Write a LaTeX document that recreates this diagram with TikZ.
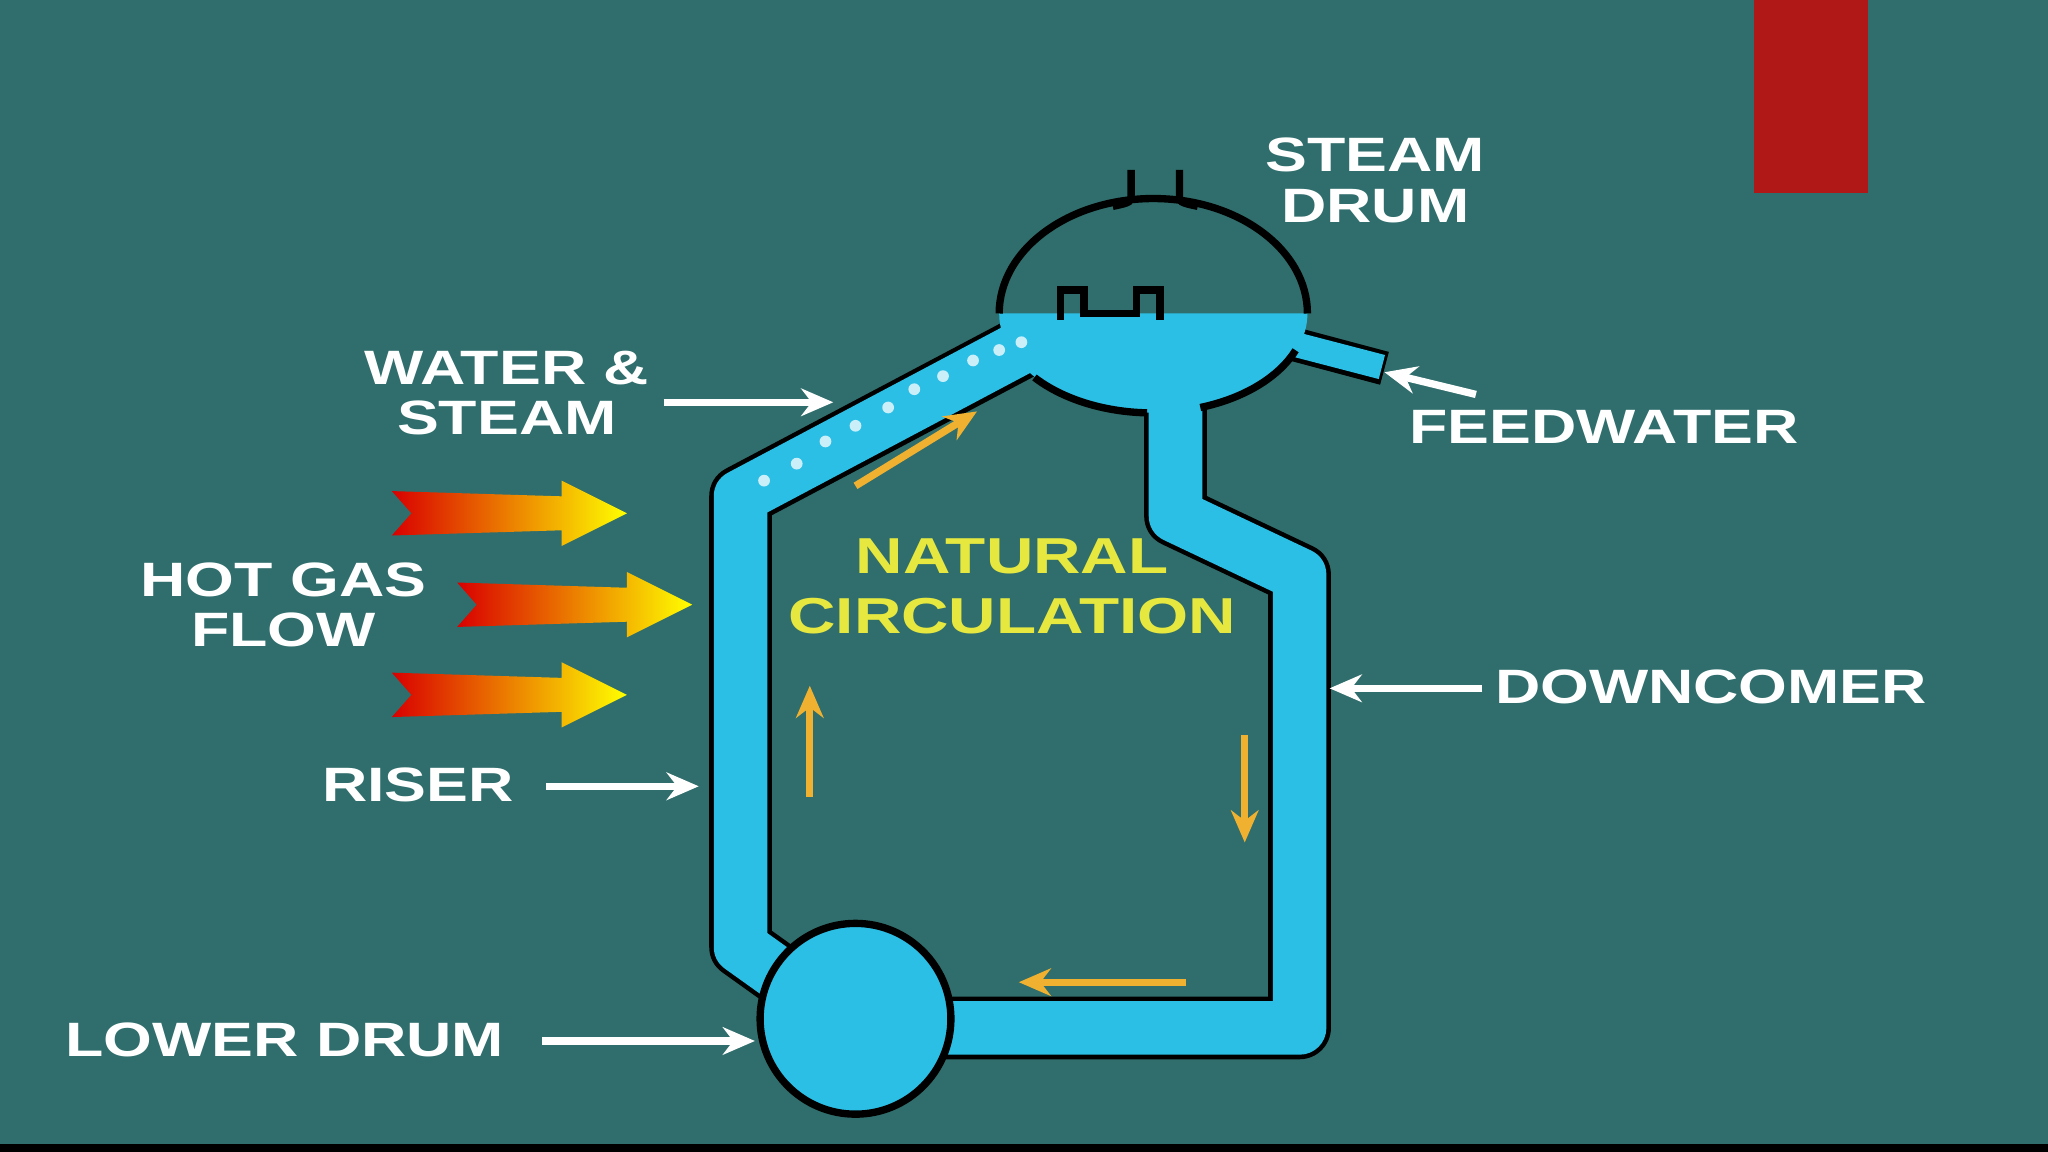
\documentclass[tikz,border=0pt]{standalone}
\usepackage{fontspec}
\setmainfont{Liberation Sans}[FakeStretch=1.3]
\usetikzlibrary{arrows.meta}
\definecolor{bg}{HTML}{2F6E6C}
\definecolor{pipe}{HTML}{2BBFE6}
\definecolor{gold}{HTML}{F0B030}
\definecolor{ylw}{HTML}{E6E840}
\definecolor{redbox}{HTML}{B01818}
\tikzset{
 lbl/.style={text=white,font=\fontsize{10.5}{11}\selectfont\bfseries,align=center,inner sep=0},
 warr/.style={draw=white,line width=1.6pt,-{Stealth[length=7pt,width=6pt]}},
 yarr/.style={draw=gold,line width=1.6pt,-{Stealth[length=7pt,width=6pt]}},
 pipeout/.style={draw=black,line width=0.48cm,line join=round},
 pipein/.style={draw=pipe,line width=0.41cm,line join=round},
 gas/.style={left color=red!85!black,right color=yellow,draw=none}
}
\begin{document}
\begin{tikzpicture}[x=0.01cm,y=-0.01cm]
\fill[bg] (0,0) rectangle (1568,882);
\fill[black] (0,876) rectangle (1568,882);
\useasboundingbox (0,0) rectangle (1568,882);
\fill[redbox] (1343,0) rectangle (1430,148);
% feedwater pipe
\draw[pipeout,line width=0.26cm] (985,262) -- (1060,282);
\draw[pipein,line width=0.19cm] (985,262) -- (1058,281);
% riser & downcomer
\draw[pipeout] (630,770) -- (567,725) -- (567,380) -- (790,262);
\draw[pipeout] (900,300) -- (900,395) -- (995,440) -- (995,787) -- (680,787);
\draw[pipein] (630,770) -- (567,725) -- (567,380) -- (795,259);
\draw[pipein] (900,290) -- (900,395) -- (995,440) -- (995,787) -- (680,787);
% steam drum
\fill[pipe] (765,240) arc[start angle=180,end angle=0,x radius=118,y radius=76];
\draw[line width=1.6pt] (765,240) arc[start angle=180,end angle=360,x radius=118,y radius=88];
\draw[line width=1.6pt] (792,289) arc[start angle=140,end angle=92,x radius=118,y radius=76];
\draw[line width=1.6pt] (919,312) arc[start angle=72,end angle=22,x radius=118,y radius=76];
\draw[line width=1.6pt] (866,130) -- (866,148) .. controls (866,155) .. (852,158);
\draw[line width=1.6pt] (903,130) -- (903,148) .. controls (903,155) .. (917,158);
\draw[line width=1.6pt] (812,245) -- (812,222) -- (830,222) -- (830,240) -- (870,240) -- (870,222) -- (888,222) -- (888,245);
% lower drum
\node[circle,draw=black,line width=1.6pt,fill=pipe,minimum size=1.46cm,inner sep=0] (ld) at (655,780) {};
% bubbles
\foreach \p in {(585,368),(610,355),(632,338),(655,326),(680,312),(700,298),(722,288),(745,276),(765,268),(782,262)}
 \fill[white!75!pipe] \p circle (4.5);
% circulation arrows
\coordinate (a1) at (655,372); \coordinate (a2) at (748,315);
\draw[yarr] (a1) -- (a2);
\coordinate (b1) at (620,610); \coordinate (b2) at (620,525);
\draw[yarr] (b1) -- (b2);
\coordinate (c1) at (953,563); \coordinate (c2) at (953,645);
\draw[yarr] (c1) -- (c2);
\coordinate (d1) at (908,752); \coordinate (d2) at (780,752);
\draw[yarr] (d1) -- (d2);
\node[text=ylw,font=\fontsize{11}{13}\selectfont\bfseries,align=center] (nc) at (775,449) {NATURAL\\CIRCULATION};
% hot gas arrows
\foreach \x/\y in {300/393,350/463,300/532}{
 \shade[gas] (\x,\y-17) -- (\x+130,\y-13) -- (\x+130,\y-25) -- (\x+180,\y) -- (\x+130,\y+25) -- (\x+130,\y+13) -- (\x,\y+17) -- (\x+15,\y) -- cycle;
}
% labels
\node[lbl] (st) at (1053,138) {STEAM\\DRUM};
\node[lbl] (ws) at (388,301) {WATER \&\\STEAM};
\coordinate (wsA) at (508,308); \coordinate (wsB) at (638,308);
\draw[warr] (wsA) -- (wsB);
\node[lbl] (fw) at (1228,327) {FEEDWATER};
\coordinate (fwA) at (1130,302); \coordinate (fwB) at (1060,285);
\draw[warr] (fwA) -- (fwB);
\node[lbl] (hg) at (217,463) {HOT GAS\\FLOW};
\node[lbl] (dc) at (1310,526) {DOWNCOMER};
\coordinate (dcA) at (1135,527); \coordinate (dcB) at (1018,527);
\draw[warr] (dcA) -- (dcB);
\node[lbl] (rs) at (320,601) {RISER};
\coordinate (rsA) at (418,602); \coordinate (rsB) at (535,602);
\draw[warr] (rsA) -- (rsB);
\node[lbl] (lw) at (218,796) {LOWER DRUM};
\coordinate (lwA) at (415,797); \coordinate (lwB) at (578,797);
\draw[warr] (lwA) -- (lwB);
\end{tikzpicture}
\end{document}
